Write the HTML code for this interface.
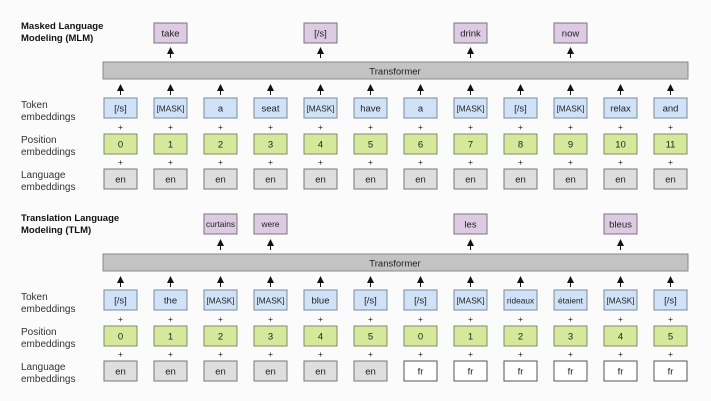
<!DOCTYPE html>
<html><head><meta charset="utf-8"><style>
html,body{margin:0;padding:0;background:#fff;}
svg{display:block;}
text{font-family:"Liberation Sans",sans-serif;}
</style></head><body>
<svg width="711" height="401" viewBox="0 0 711 401" xmlns="http://www.w3.org/2000/svg">
<defs>
<marker id="ah" markerWidth="8" markerHeight="8" refX="3" refY="4" orient="auto" markerUnits="userSpaceOnUse"><path d="M0,0.5 L7,4 L0,7.5 z" fill="#111"/></marker>
<style>
.tok{fill:#cfe2f7;stroke:#7b8a99;stroke-width:1}
.pos{fill:#d6e99a;stroke:#808a66;stroke-width:1}
.lang{fill:#dedede;stroke:#777;stroke-width:1}
.fr{fill:#fff;stroke:#555;stroke-width:1}
.out{fill:#dccbe2;stroke:#777;stroke-width:1}
.bar{fill:#c3c3c3;stroke:#888;stroke-width:1}
.t{font-size:9.5px;fill:#222;text-anchor:middle}
.s{font-size:8.3px;fill:#222;text-anchor:middle}
.lbl{font-size:10px;fill:#333}
.ttl{font-size:9.5px;font-weight:bold;fill:#111}
.pl{font-size:8.5px;fill:#222;text-anchor:middle}
.ar{stroke:#111;stroke-width:1;marker-end:url(#ah)}
</style>
</defs>
<rect x="0" y="0" width="711" height="401" fill="#fbfbfb"/>

<text class="ttl" x="21" y="29">Masked Language</text>
<text class="ttl" x="21" y="41">Modeling (MLM)</text>
<text class="lbl" x="21" y="108">Token</text><text class="lbl" x="21" y="120">embeddings</text>
<text class="lbl" x="21" y="143">Position</text><text class="lbl" x="21" y="155">embeddings</text>
<text class="lbl" x="21" y="178">Language</text><text class="lbl" x="21" y="190">embeddings</text>

<rect class="out" x="154" y="23" width="33" height="20"/><text class="t" x="170.5" y="36.5">take</text>
<rect class="out" x="304" y="23" width="33" height="20"/><text class="t" x="320.5" y="36.5">[/s]</text>
<rect class="out" x="454" y="23" width="33" height="20"/><text class="t" x="470.5" y="36.5">drink</text>
<rect class="out" x="554" y="23" width="33" height="20"/><text class="t" x="570.5" y="36.5">now</text>
<line class="ar" x1="170.5" y1="58" x2="170.5" y2="51"/>
<line class="ar" x1="320.5" y1="58" x2="320.5" y2="51"/>
<line class="ar" x1="470.5" y1="58" x2="470.5" y2="51"/>
<line class="ar" x1="570.5" y1="58" x2="570.5" y2="51"/>

<rect class="bar" x="103" y="62" width="585" height="17"/>
<text class="t" x="395" y="74.5">Transformer</text>

<g>
<line class="ar" x1="120.5" y1="95" x2="120.5" y2="88"/>
<line class="ar" x1="170.5" y1="95" x2="170.5" y2="88"/>
<line class="ar" x1="220.5" y1="95" x2="220.5" y2="88"/>
<line class="ar" x1="270.5" y1="95" x2="270.5" y2="88"/>
<line class="ar" x1="320.5" y1="95" x2="320.5" y2="88"/>
<line class="ar" x1="370.5" y1="95" x2="370.5" y2="88"/>
<line class="ar" x1="420.5" y1="95" x2="420.5" y2="88"/>
<line class="ar" x1="470.5" y1="95" x2="470.5" y2="88"/>
<line class="ar" x1="520.5" y1="95" x2="520.5" y2="88"/>
<line class="ar" x1="570.5" y1="95" x2="570.5" y2="88"/>
<line class="ar" x1="620.5" y1="95" x2="620.5" y2="88"/>
<line class="ar" x1="670.5" y1="95" x2="670.5" y2="88"/>
</g>

<rect class="tok" x="104" y="98" width="33" height="20"/><text class="t" x="120.5" y="111.5">[/s]</text>
<rect class="tok" x="154" y="98" width="33" height="20"/><text class="s" x="170.5" y="111.5">[MASK]</text>
<rect class="tok" x="204" y="98" width="33" height="20"/><text class="t" x="220.5" y="111.5">a</text>
<rect class="tok" x="254" y="98" width="33" height="20"/><text class="t" x="270.5" y="111.5">seat</text>
<rect class="tok" x="304" y="98" width="33" height="20"/><text class="s" x="320.5" y="111.5">[MASK]</text>
<rect class="tok" x="354" y="98" width="33" height="20"/><text class="t" x="370.5" y="111.5">have</text>
<rect class="tok" x="404" y="98" width="33" height="20"/><text class="t" x="420.5" y="111.5">a</text>
<rect class="tok" x="454" y="98" width="33" height="20"/><text class="s" x="470.5" y="111.5">[MASK]</text>
<rect class="tok" x="504" y="98" width="33" height="20"/><text class="t" x="520.5" y="111.5">[/s]</text>
<rect class="tok" x="554" y="98" width="33" height="20"/><text class="s" x="570.5" y="111.5">[MASK]</text>
<rect class="tok" x="604" y="98" width="33" height="20"/><text class="t" x="620.5" y="111.5">relax</text>
<rect class="tok" x="654" y="98" width="33" height="20"/><text class="t" x="670.5" y="111.5">and</text>

<g>
<text class="pl" x="120.5" y="130">+</text><text class="pl" x="170.5" y="130">+</text><text class="pl" x="220.5" y="130">+</text><text class="pl" x="270.5" y="130">+</text><text class="pl" x="320.5" y="130">+</text><text class="pl" x="370.5" y="130">+</text><text class="pl" x="420.5" y="130">+</text><text class="pl" x="470.5" y="130">+</text><text class="pl" x="520.5" y="130">+</text><text class="pl" x="570.5" y="130">+</text><text class="pl" x="620.5" y="130">+</text><text class="pl" x="670.5" y="130">+</text>
<text class="pl" x="120.5" y="165">+</text><text class="pl" x="170.5" y="165">+</text><text class="pl" x="220.5" y="165">+</text><text class="pl" x="270.5" y="165">+</text><text class="pl" x="320.5" y="165">+</text><text class="pl" x="370.5" y="165">+</text><text class="pl" x="420.5" y="165">+</text><text class="pl" x="470.5" y="165">+</text><text class="pl" x="520.5" y="165">+</text><text class="pl" x="570.5" y="165">+</text><text class="pl" x="620.5" y="165">+</text><text class="pl" x="670.5" y="165">+</text>
</g>

<rect class="pos" x="104" y="134" width="33" height="20"/><text class="t" x="120.5" y="147.5">0</text>
<rect class="pos" x="154" y="134" width="33" height="20"/><text class="t" x="170.5" y="147.5">1</text>
<rect class="pos" x="204" y="134" width="33" height="20"/><text class="t" x="220.5" y="147.5">2</text>
<rect class="pos" x="254" y="134" width="33" height="20"/><text class="t" x="270.5" y="147.5">3</text>
<rect class="pos" x="304" y="134" width="33" height="20"/><text class="t" x="320.5" y="147.5">4</text>
<rect class="pos" x="354" y="134" width="33" height="20"/><text class="t" x="370.5" y="147.5">5</text>
<rect class="pos" x="404" y="134" width="33" height="20"/><text class="t" x="420.5" y="147.5">6</text>
<rect class="pos" x="454" y="134" width="33" height="20"/><text class="t" x="470.5" y="147.5">7</text>
<rect class="pos" x="504" y="134" width="33" height="20"/><text class="t" x="520.5" y="147.5">8</text>
<rect class="pos" x="554" y="134" width="33" height="20"/><text class="t" x="570.5" y="147.5">9</text>
<rect class="pos" x="604" y="134" width="33" height="20"/><text class="t" x="620.5" y="147.5">10</text>
<rect class="pos" x="654" y="134" width="33" height="20"/><text class="t" x="670.5" y="147.5">11</text>

<rect class="lang" x="104" y="169" width="33" height="20"/><text class="t" x="120.5" y="182.5">en</text>
<rect class="lang" x="154" y="169" width="33" height="20"/><text class="t" x="170.5" y="182.5">en</text>
<rect class="lang" x="204" y="169" width="33" height="20"/><text class="t" x="220.5" y="182.5">en</text>
<rect class="lang" x="254" y="169" width="33" height="20"/><text class="t" x="270.5" y="182.5">en</text>
<rect class="lang" x="304" y="169" width="33" height="20"/><text class="t" x="320.5" y="182.5">en</text>
<rect class="lang" x="354" y="169" width="33" height="20"/><text class="t" x="370.5" y="182.5">en</text>
<rect class="lang" x="404" y="169" width="33" height="20"/><text class="t" x="420.5" y="182.5">en</text>
<rect class="lang" x="454" y="169" width="33" height="20"/><text class="t" x="470.5" y="182.5">en</text>
<rect class="lang" x="504" y="169" width="33" height="20"/><text class="t" x="520.5" y="182.5">en</text>
<rect class="lang" x="554" y="169" width="33" height="20"/><text class="t" x="570.5" y="182.5">en</text>
<rect class="lang" x="604" y="169" width="33" height="20"/><text class="t" x="620.5" y="182.5">en</text>
<rect class="lang" x="654" y="169" width="33" height="20"/><text class="t" x="670.5" y="182.5">en</text>

<text class="ttl" x="21" y="221">Translation Language</text>
<text class="ttl" x="21" y="233">Modeling (TLM)</text>
<text class="lbl" x="21" y="300">Token</text><text class="lbl" x="21" y="312">embeddings</text>
<text class="lbl" x="21" y="335">Position</text><text class="lbl" x="21" y="347">embeddings</text>
<text class="lbl" x="21" y="370">Language</text><text class="lbl" x="21" y="382">embeddings</text>

<rect class="out" x="204" y="214" width="33" height="20"/><text class="s" x="220.5" y="227">curtains</text>
<rect class="out" x="254" y="214" width="33" height="20"/><text class="s" x="270.5" y="227">were</text>
<rect class="out" x="454" y="214" width="33" height="20"/><text class="t" x="470.5" y="227.5">les</text>
<rect class="out" x="604" y="214" width="33" height="20"/><text class="t" x="620.5" y="227.5">bleus</text>
<line class="ar" x1="220.5" y1="250" x2="220.5" y2="243"/>
<line class="ar" x1="270.5" y1="250" x2="270.5" y2="243"/>
<line class="ar" x1="470.5" y1="250" x2="470.5" y2="243"/>
<line class="ar" x1="620.5" y1="250" x2="620.5" y2="243"/>

<rect class="bar" x="103" y="254" width="585" height="17"/>
<text class="t" x="395" y="266.5">Transformer</text>

<g>
<line class="ar" x1="120.5" y1="287" x2="120.5" y2="280"/>
<line class="ar" x1="170.5" y1="287" x2="170.5" y2="280"/>
<line class="ar" x1="220.5" y1="287" x2="220.5" y2="280"/>
<line class="ar" x1="270.5" y1="287" x2="270.5" y2="280"/>
<line class="ar" x1="320.5" y1="287" x2="320.5" y2="280"/>
<line class="ar" x1="370.5" y1="287" x2="370.5" y2="280"/>
<line class="ar" x1="420.5" y1="287" x2="420.5" y2="280"/>
<line class="ar" x1="470.5" y1="287" x2="470.5" y2="280"/>
<line class="ar" x1="520.5" y1="287" x2="520.5" y2="280"/>
<line class="ar" x1="570.5" y1="287" x2="570.5" y2="280"/>
<line class="ar" x1="620.5" y1="287" x2="620.5" y2="280"/>
<line class="ar" x1="670.5" y1="287" x2="670.5" y2="280"/>
</g>

<rect class="tok" x="104" y="290" width="33" height="20"/><text class="t" x="120.5" y="303.5">[/s]</text>
<rect class="tok" x="154" y="290" width="33" height="20"/><text class="t" x="170.5" y="303.5">the</text>
<rect class="tok" x="204" y="290" width="33" height="20"/><text class="s" x="220.5" y="303.5">[MASK]</text>
<rect class="tok" x="254" y="290" width="33" height="20"/><text class="s" x="270.5" y="303.5">[MASK]</text>
<rect class="tok" x="304" y="290" width="33" height="20"/><text class="t" x="320.5" y="303.5">blue</text>
<rect class="tok" x="354" y="290" width="33" height="20"/><text class="t" x="370.5" y="303.5">[/s]</text>
<rect class="tok" x="404" y="290" width="33" height="20"/><text class="t" x="420.5" y="303.5">[/s]</text>
<rect class="tok" x="454" y="290" width="33" height="20"/><text class="s" x="470.5" y="303.5">[MASK]</text>
<rect class="tok" x="504" y="290" width="33" height="20"/><text class="s" x="520.5" y="303.5">rideaux</text>
<rect class="tok" x="554" y="290" width="33" height="20"/><text class="s" x="570.5" y="303.5">étaient</text>
<rect class="tok" x="604" y="290" width="33" height="20"/><text class="s" x="620.5" y="303.5">[MASK]</text>
<rect class="tok" x="654" y="290" width="33" height="20"/><text class="t" x="670.5" y="303.5">[/s]</text>

<g>
<text class="pl" x="120.5" y="322">+</text><text class="pl" x="170.5" y="322">+</text><text class="pl" x="220.5" y="322">+</text><text class="pl" x="270.5" y="322">+</text><text class="pl" x="320.5" y="322">+</text><text class="pl" x="370.5" y="322">+</text><text class="pl" x="420.5" y="322">+</text><text class="pl" x="470.5" y="322">+</text><text class="pl" x="520.5" y="322">+</text><text class="pl" x="570.5" y="322">+</text><text class="pl" x="620.5" y="322">+</text><text class="pl" x="670.5" y="322">+</text>
<text class="pl" x="120.5" y="357">+</text><text class="pl" x="170.5" y="357">+</text><text class="pl" x="220.5" y="357">+</text><text class="pl" x="270.5" y="357">+</text><text class="pl" x="320.5" y="357">+</text><text class="pl" x="370.5" y="357">+</text><text class="pl" x="420.5" y="357">+</text><text class="pl" x="470.5" y="357">+</text><text class="pl" x="520.5" y="357">+</text><text class="pl" x="570.5" y="357">+</text><text class="pl" x="620.5" y="357">+</text><text class="pl" x="670.5" y="357">+</text>
</g>

<rect class="pos" x="104" y="326" width="33" height="20"/><text class="t" x="120.5" y="339.5">0</text>
<rect class="pos" x="154" y="326" width="33" height="20"/><text class="t" x="170.5" y="339.5">1</text>
<rect class="pos" x="204" y="326" width="33" height="20"/><text class="t" x="220.5" y="339.5">2</text>
<rect class="pos" x="254" y="326" width="33" height="20"/><text class="t" x="270.5" y="339.5">3</text>
<rect class="pos" x="304" y="326" width="33" height="20"/><text class="t" x="320.5" y="339.5">4</text>
<rect class="pos" x="354" y="326" width="33" height="20"/><text class="t" x="370.5" y="339.5">5</text>
<rect class="pos" x="404" y="326" width="33" height="20"/><text class="t" x="420.5" y="339.5">0</text>
<rect class="pos" x="454" y="326" width="33" height="20"/><text class="t" x="470.5" y="339.5">1</text>
<rect class="pos" x="504" y="326" width="33" height="20"/><text class="t" x="520.5" y="339.5">2</text>
<rect class="pos" x="554" y="326" width="33" height="20"/><text class="t" x="570.5" y="339.5">3</text>
<rect class="pos" x="604" y="326" width="33" height="20"/><text class="t" x="620.5" y="339.5">4</text>
<rect class="pos" x="654" y="326" width="33" height="20"/><text class="t" x="670.5" y="339.5">5</text>

<rect class="lang" x="104" y="361" width="33" height="20"/><text class="t" x="120.5" y="374.5">en</text>
<rect class="lang" x="154" y="361" width="33" height="20"/><text class="t" x="170.5" y="374.5">en</text>
<rect class="lang" x="204" y="361" width="33" height="20"/><text class="t" x="220.5" y="374.5">en</text>
<rect class="lang" x="254" y="361" width="33" height="20"/><text class="t" x="270.5" y="374.5">en</text>
<rect class="lang" x="304" y="361" width="33" height="20"/><text class="t" x="320.5" y="374.5">en</text>
<rect class="lang" x="354" y="361" width="33" height="20"/><text class="t" x="370.5" y="374.5">en</text>
<rect class="fr" x="404" y="361" width="33" height="20"/><text class="t" x="420.5" y="374.5">fr</text>
<rect class="fr" x="454" y="361" width="33" height="20"/><text class="t" x="470.5" y="374.5">fr</text>
<rect class="fr" x="504" y="361" width="33" height="20"/><text class="t" x="520.5" y="374.5">fr</text>
<rect class="fr" x="554" y="361" width="33" height="20"/><text class="t" x="570.5" y="374.5">fr</text>
<rect class="fr" x="604" y="361" width="33" height="20"/><text class="t" x="620.5" y="374.5">fr</text>
<rect class="fr" x="654" y="361" width="33" height="20"/><text class="t" x="670.5" y="374.5">fr</text>
</svg>
</body></html>
